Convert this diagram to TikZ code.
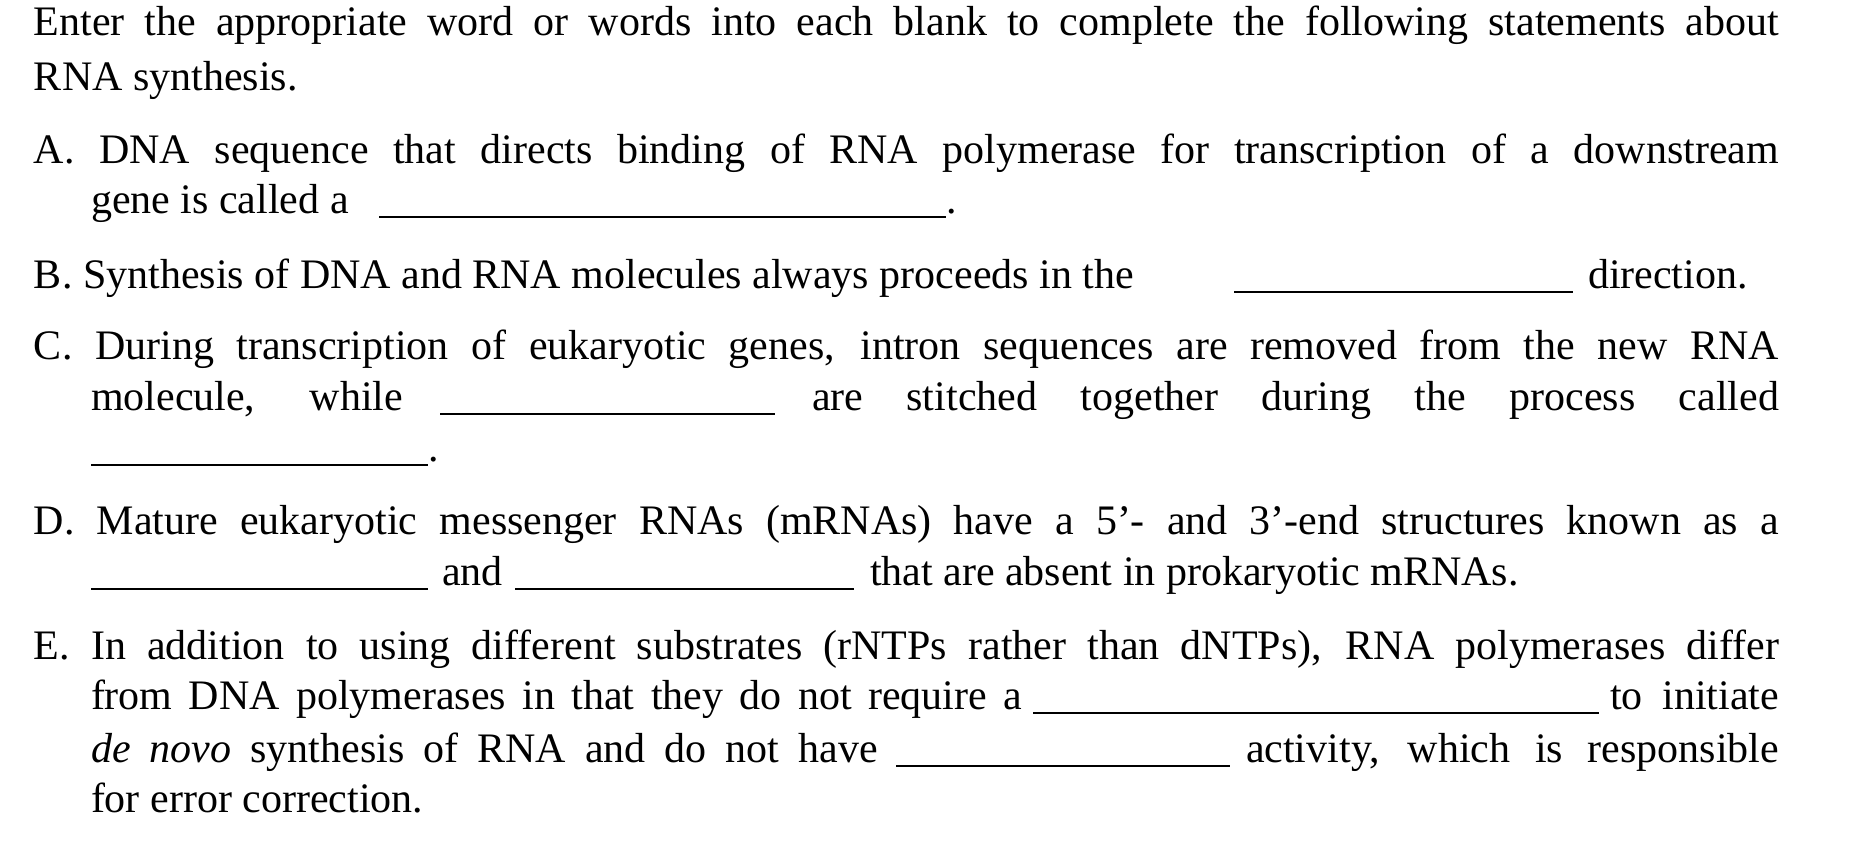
\documentclass[tikz,border=0pt]{standalone}
\usepackage{fontspec}
\setmainfont{Liberation Serif}
\begin{document}
\begin{tikzpicture}[x=1pt,y=1pt,
  t/.style={anchor=base west,inner sep=0pt,outer sep=0pt,font=\fontsize{42}{50}\selectfont},
  blank/.style={line width=1.6pt}]
\useasboundingbox[fill=white] (0,0) rectangle (1869,-864);
\node[t] (l1) at (34,-36) {\makebox[1745pt][s]{Enter the appropriate word or words into each blank to complete the following statements about}};
\node[t] (l2) at (34,-91) {RNA synthesis.};
% A
\node[t] (a1) at (34,-164) {\makebox[1745pt][s]{A. DNA sequence that directs binding of RNA polymerase for transcription of a downstream}};
\node[t] (a2) at (91,-213) {gene is called a};
\draw[blank] (379,-217) -- (946,-217);
\node[t] (a3) at (946,-213) {.};
% B
\node[t] (b1) at (34,-288) {B. Synthesis of DNA and RNA molecules always proceeds in the};
\draw[blank] (1234,-292) -- (1573,-292);
\node[t] (b2) at (1588,-288) {direction.};
% C
\node[t] (c1) at (34,-359) {\makebox[1745pt][s]{C. During transcription of eukaryotic genes, intron sequences are removed from the new RNA}};
\node[t] (c2) at (91,-410) {\makebox[312pt][s]{molecule, while}};
\draw[blank] (440,-414) -- (775,-414);
\node[t] (c3) at (812,-410) {\makebox[967pt][s]{are stitched together during the process called}};
\draw[blank] (91,-465) -- (428,-465);
\node[t] (c4) at (428,-461) {.};
% D
\node[t] (d1) at (34,-534) {\makebox[1745pt][s]{D. Mature eukaryotic messenger RNAs (mRNAs) have a 5’- and 3’-end structures known as a}};
\draw[blank] (91,-589) -- (428,-589);
\node[t] (d2) at (442,-585) {and};
\draw[blank] (515,-589) -- (854,-589);
\node[t] (d3) at (870,-585) {that are absent in prokaryotic mRNAs.};
% E
\node[t] (e1) at (34,-659) {\makebox[1745pt][s]{E. In addition to using different substrates (rNTPs rather than dNTPs), RNA polymerases differ}};
\node[t] (e2) at (91,-709) {\makebox[931pt][s]{from DNA polymerases in that they do not require a}};
\draw[blank] (1033,-713) -- (1599,-713);
\node[t] (e3) at (1610,-709) {\makebox[169pt][s]{to initiate}};
\node[t] (e4) at (91,-762) {\makebox[787pt][s]{\textit{de novo} synthesis of RNA and do not have}};
\draw[blank] (896,-766) -- (1230,-766);
\node[t] (e5) at (1246,-762) {\makebox[533pt][s]{activity, which is responsible}};
\node[t] (e6) at (91,-812) {for error correction.};
\end{tikzpicture}
\end{document}
